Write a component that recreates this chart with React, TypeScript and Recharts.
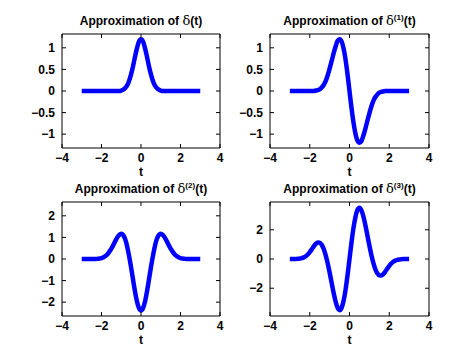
import { LineChart, Line, XAxis, YAxis } from "recharts";

// sample times, -3 .. 3
const T = [
  -3.0, -2.9, -2.8, -2.7, -2.6, -2.5, -2.4, -2.3, -2.2, -2.1,
  -2.0, -1.9, -1.8, -1.7, -1.6, -1.5, -1.4, -1.3, -1.2, -1.1,
  -1.0, -0.9, -0.8, -0.7, -0.6, -0.5, -0.4, -0.3, -0.2, -0.1,
  0,
  0.1, 0.2, 0.3, 0.4, 0.5, 0.6, 0.7, 0.8, 0.9, 1.0,
  1.1, 1.2, 1.3, 1.4, 1.5, 1.6, 1.7, 1.8, 1.9, 2.0,
  2.1, 2.2, 2.3, 2.4, 2.5, 2.6, 2.7, 2.8, 2.9, 3.0,
];

const DELTA0 = [
  0, 0, 0, 0, 0, 0, 0, 0, 0, 0,
  0, 0, 0, 0, 0, 0, 0, 0, 0, 0,
  0.01, 0.03, 0.07, 0.13, 0.24, 0.39, 0.58, 0.8, 1.0, 1.15,
  1.2,
  1.15, 1.0, 0.8, 0.58, 0.39, 0.24, 0.13, 0.07, 0.03, 0.01,
  0, 0, 0, 0, 0, 0, 0, 0, 0, 0,
  0, 0, 0, 0, 0, 0, 0, 0, 0, 0,
];

const DELTA1 = [
  0, 0, 0, 0, 0, 0, 0, 0, 0, 0,
  0, 0, 0, 0.01, 0.02, 0.04, 0.08, 0.14, 0.23, 0.36,
  0.52, 0.69, 0.87, 1.03, 1.16, 1.2, 1.15, 0.99, 0.73, 0.39,
  0,
  -0.39, -0.73, -0.99, -1.15, -1.2, -1.16, -1.03, -0.87, -0.69, -0.52,
  -0.36, -0.23, -0.14, -0.08, -0.04, -0.02, -0.01, 0, 0, 0,
  0, 0, 0, 0, 0, 0, 0, 0, 0, 0,
];

const DELTA2 = [
  0, 0, 0, 0, 0, 0, 0, 0, 0.01, 0.02,
  0.04, 0.08, 0.14, 0.22, 0.34, 0.48, 0.65, 0.83, 1.0, 1.12,
  1.17, 1.11, 0.92, 0.58, 0.12, -0.4, -0.97, -1.52, -1.98, -2.28,
  -2.38,
  -2.28, -1.98, -1.52, -0.97, -0.4, 0.12, 0.58, 0.92, 1.11, 1.17,
  1.12, 1.0, 0.83, 0.65, 0.48, 0.34, 0.22, 0.14, 0.08, 0.04,
  0.02, 0.01, 0, 0, 0, 0, 0, 0, 0, 0,
];

const DELTA3 = [
  0, 0, 0, 0, 0.01, 0.03, 0.06, 0.11, 0.19, 0.31,
  0.47, 0.66, 0.86, 1.03, 1.13, 1.12, 0.98, 0.7, 0.26, -0.28,
  -0.92, -1.62, -2.31, -2.91, -3.33, -3.5, -3.35, -2.88, -2.12, -1.12,
  0,
  1.12, 2.12, 2.88, 3.35, 3.5, 3.33, 2.91, 2.31, 1.62, 0.92,
  0.28, -0.26, -0.7, -0.98, -1.12, -1.13, -1.03, -0.86, -0.66, -0.47,
  -0.31, -0.19, -0.11, -0.06, -0.03, -0.01, 0, 0, 0, 0,
];

const X_TICKS = [-4, -2, 0, 2, 4];
const Y_TICKS_01 = [-1, -0.5, 0, 0.5, 1];
const Y_TICKS_2 = [-2, -1, 0, 1, 2];
const Y_TICKS_3 = [-2, 0, 2];

const Y_LIM_01: [number, number] = [-1.32, 1.32];
const Y_LIM_2: [number, number] = [-2.64, 2.64];
const Y_LIM_3: [number, number] = [-3.9, 3.9];

const FONT = '"Liberation Sans", Arial, Helvetica, sans-serif';

const fmt = (v: number) => (v < 0 ? "\u2212" + String(-v) : String(v));
const noLabel = () => <g />;

interface PanelProps {
  left: number;
  top: number;
  width: number;
  height: number;
  margin: { top: number; right: number; bottom: number; left: number };
  yAxisWidth: number;
  xAxisHeight: number;
  values: number[];
  yDomain: [number, number];
  yTicks: number[];
  order?: string;
}

// the two mirror axes (top/right) are 1px wide, so margins are one less
function Panel(p: PanelProps) {
  const data = T.map((t, i) => ({ t, v: p.values[i] }));
  const plotLeft = p.left + p.margin.left + p.yAxisWidth;
  const plotRight = p.left + p.width - p.margin.right - 1;
  const plotBottom = p.top + p.height - p.margin.bottom - p.xAxisHeight;
  const plotTop = p.top + p.margin.top + 1;
  const cx = (plotLeft + plotRight) / 2;
  const tickStyle = { fontSize: 12, fontWeight: "bold", fill: "#000", fontFamily: FONT };

  return (
    <>
      <div
        style={{
          position: "absolute",
          left: cx - 110,
          width: 220,
          top: plotTop - 20,
          textAlign: "center",
          fontFamily: FONT,
          fontWeight: "bold",
          fontSize: 12,
          lineHeight: "14px",
          whiteSpace: "nowrap",
        }}
      >
        Approximation of{" "}
        <span style={{ fontFamily: '"DejaVu Serif", serif', fontWeight: "normal", fontSize: 13 }}>
          δ
        </span>
        {p.order && (
          <span style={{ fontSize: 8, position: "relative", top: -5 }}>{p.order}</span>
        )}
        (t)
      </div>
      <div
        style={{
          position: "absolute",
          left: cx - 20,
          width: 40,
          top: plotBottom + 17,
          textAlign: "center",
          fontFamily: FONT,
          fontWeight: "bold",
          fontSize: 12,
          lineHeight: "14px",
        }}
      >
        t
      </div>
      <div style={{ position: "absolute", left: p.left, top: p.top }}>
        <LineChart width={p.width} height={p.height} data={data} margin={p.margin}>
          <XAxis
            dataKey="t"
            type="number"
            domain={[-4, 4]}
            ticks={X_TICKS}
            interval={0}
            allowDataOverflow
            height={p.xAxisHeight}
            tickSize={-4}
            tickMargin={9}
            tick={tickStyle}
            tickFormatter={fmt}
            stroke="#000"
          />
          <XAxis
            xAxisId="top"
            orientation="top"
            dataKey="t"
            type="number"
            domain={[-4, 4]}
            ticks={X_TICKS}
            interval={0}
            allowDataOverflow
            height={1}
            tickSize={-4}
            tick={noLabel}
            stroke="#000"
          />
          <YAxis
            type="number"
            domain={p.yDomain}
            ticks={p.yTicks}
            interval={0}
            allowDataOverflow
            width={p.yAxisWidth}
            tickSize={-4}
            tickMargin={11}
            tick={tickStyle}
            tickFormatter={fmt}
            stroke="#000"
          />
          <YAxis
            yAxisId="right"
            orientation="right"
            type="number"
            domain={p.yDomain}
            ticks={p.yTicks}
            interval={0}
            allowDataOverflow
            width={1}
            tickSize={-4}
            tick={noLabel}
            stroke="#000"
          />
          {/* invisible copy so the mirror axes have a series */}
          <Line
            xAxisId="top"
            yAxisId="right"
            type="monotone"
            dataKey="v"
            stroke="none"
            dot={false}
            isAnimationActive={false}
          />
          <Line
            type="monotone"
            dataKey="v"
            stroke="#0000ff"
            strokeWidth={4.5}
            dot={false}
            isAnimationActive={false}
          />
        </LineChart>
      </div>
    </>
  );
}

export default function App() {
  return (
    <div
      style={{
        position: "absolute",
        left: 0,
        top: 0,
        width: 474,
        height: 355,
        background: "#fff",
        overflow: "hidden",
      }}
    >
      <Panel
        left={0}
        top={0}
        width={237}
        height={177}
        margin={{ top: 33, right: 16, bottom: 0, left: 0 }}
        yAxisWidth={62}
        xAxisHeight={29}
        values={DELTA0}
        yDomain={Y_LIM_01}
        yTicks={Y_TICKS_01}
      />
      <Panel
        left={237}
        top={0}
        width={237}
        height={177}
        margin={{ top: 33, right: 44, bottom: 0, left: 0 }}
        yAxisWidth={33}
        xAxisHeight={29}
        values={DELTA1}
        yDomain={Y_LIM_01}
        yTicks={Y_TICKS_01}
        order="(1)"
      />
      <Panel
        left={0}
        top={177}
        width={237}
        height={178}
        margin={{ top: 24, right: 16, bottom: 0, left: 0 }}
        yAxisWidth={62}
        xAxisHeight={39}
        values={DELTA2}
        yDomain={Y_LIM_2}
        yTicks={Y_TICKS_2}
        order="(2)"
      />
      <Panel
        left={237}
        top={177}
        width={237}
        height={178}
        margin={{ top: 24, right: 44, bottom: 0, left: 0 }}
        yAxisWidth={33}
        xAxisHeight={39}
        values={DELTA3}
        yDomain={Y_LIM_3}
        yTicks={Y_TICKS_3}
        order="(3)"
      />
    </div>
  );
}
